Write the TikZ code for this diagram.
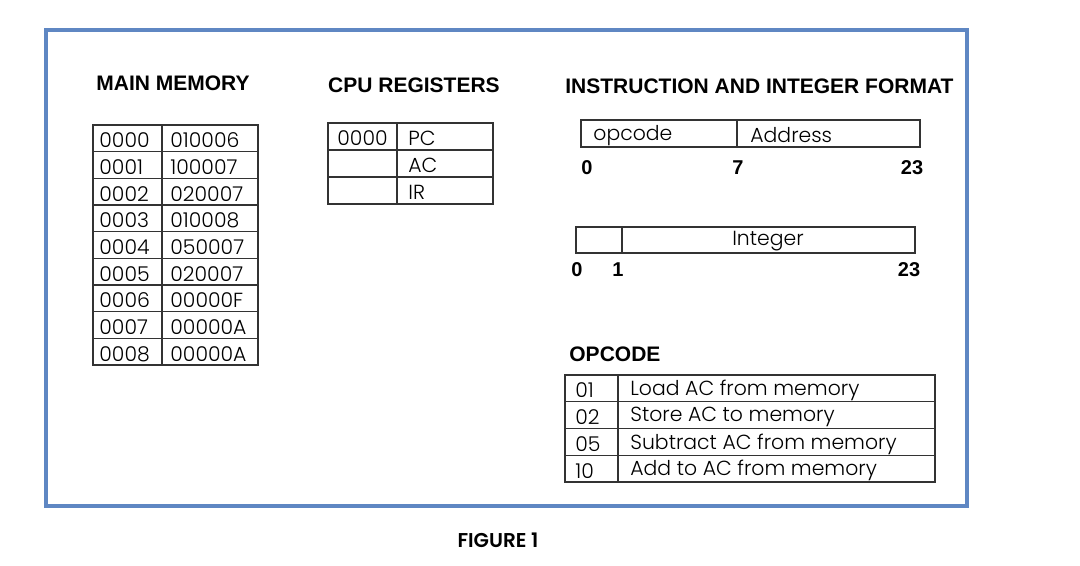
\documentclass[tikz,border=0pt]{standalone}
\usepackage{fontspec}
\setmainfont{Liberation Sans}
\newfontfamily\gothic{Poppins Light}
\newfontfamily\gothicb{Poppins SemiBold}
\begin{document}
\begin{tikzpicture}[x=0.5pt,y=-0.5pt,
  cell/.style={draw=black!80,line width=0.6pt},
  txt/.style={font=\gothic\fontsize{10.2}{12}\selectfont,inner sep=0pt,anchor=west},
  hdr/.style={font=\bfseries\fontsize{10.5}{12}\selectfont,inner sep=0pt},
  num/.style={font=\bfseries\fontsize{10}{12}\selectfont,inner sep=0pt}]
\useasboundingbox (0,0) rectangle (1080,566);
\draw[draw={rgb,255:red,95;green,135;blue,195},line width=1.6pt] (46,30) rectangle (967,506);
% main memory
\node[hdr] (mmt) at (173,83) {MAIN MEMORY};
\foreach \a/\v [count=\i from 0] in {0000/010006,0001/100007,0002/020007,0003/010008,0004/050007,0005/020007,0006/00000F,0007/00000A,0008/00000A}{
  \pgfmathsetmacro{\yt}{125+\i*26.67}
  \draw[cell] (93,\yt) rectangle ++(69,26.67);
  \draw[cell] (162,\yt) rectangle ++(96,26.67);
  \node[txt] (ma\i) at (99,\yt+15.5) {\a};
  \node[txt] (mv\i) at (170,\yt+15.5) {\v};
}
% CPU registers
\node[hdr] (cput) at (414,85) {CPU REGISTERS};
\foreach \a/\v [count=\i from 0] in {0000/PC,/AC,/IR}{
  \pgfmathsetmacro{\yt}{123+\i*27}
  \draw[cell] (328,\yt) rectangle ++(69,27);
  \draw[cell] (397,\yt) rectangle ++(96,27);
  \node[txt] (ra\i) at (337,\yt+15.5) {\a};
  \node[txt] (rv\i) at (408,\yt+15.5) {\v};
}
% instruction format
\node[hdr,anchor=west] (ift) at (565,86) {INSTRUCTION AND INTEGER FORMAT};
\draw[cell] (581,120) rectangle (737,147);
\draw[cell] (737,120) rectangle (920,147);
\node[txt] (opc) at (593,135.5) {opcode};
\node[txt] (addr) at (750,135.5) {Address};
\node[num] (n0) at (587,168) {0};
\node[num] (n7) at (738,168) {7};
\node[num] (n23) at (912,168) {23};
\draw[cell] (576,227) rectangle (622,253);
\draw[cell] (622,227) rectangle (915,253);
\node[txt,anchor=center] (intg) at (768,241.5) {Integer};
\node[num] (m0) at (577,270) {0};
\node[num] (m1) at (618,270) {1};
\node[num] (m23) at (909,270) {23};
% opcode table
\node[hdr,anchor=west] (opt) at (569,354) {OPCODE};
\foreach \a/\v [count=\i from 0] in {01/Load AC from memory,02/Store AC to memory,05/Subtract AC from memory,10/Add to AC from memory}{
  \pgfmathsetmacro{\yt}{375+\i*26.75}
  \draw[cell] (565,\yt) rectangle ++(53,26.75);
  \draw[cell] (618,\yt) rectangle (935,\yt+26.75);
  \node[txt] (oa\i) at (575,\yt+15.5) {\a};
  \node[txt] (ov\i) at (630,\yt+15.5) {\v};
}
\node[font=\gothicb\fontsize{10}{12}\selectfont,inner sep=0pt] (fig) at (498,540) {FIGURE 1};
\end{tikzpicture}
\end{document}
